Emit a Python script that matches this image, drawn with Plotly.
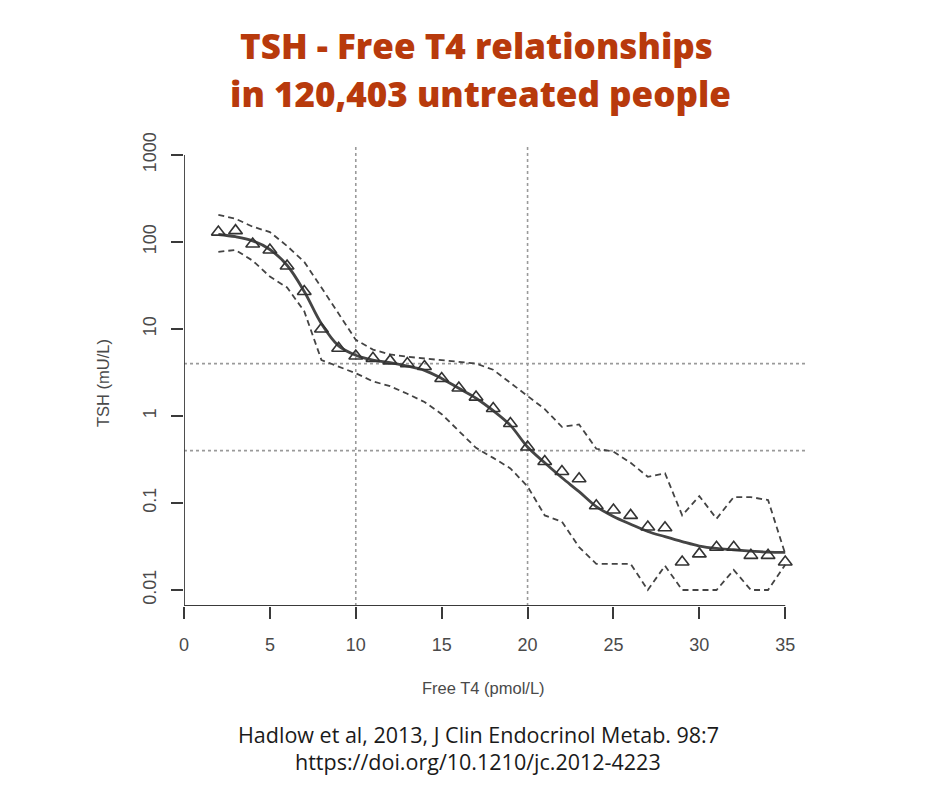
import numpy as np
import plotly.graph_objects as go

# ---------------- data ----------------
free_t4 = list(range(2, 36))
tsh_points = [130, 135, 95, 81, 53, 27, 10, 6.0, 4.9, 4.6, 4.3, 4.0, 3.7, 2.7, 2.1,
              1.65, 1.22, 0.82, 0.44, 0.30, 0.23, 0.19, 0.093, 0.083, 0.072, 0.053,
              0.052, 0.021, 0.026, 0.031, 0.031, 0.025, 0.025, 0.021]
tsh_fit = [122, 115, 103, 82, 54, 27, 11.5, 6.4, 5.0, 4.4, 4.1, 3.75, 3.35, 2.7, 2.08,
           1.6, 1.15, 0.78, 0.44, 0.29, 0.195, 0.135, 0.091, 0.07, 0.057, 0.047,
           0.041, 0.036, 0.032, 0.030, 0.029, 0.028, 0.0272, 0.027]
tsh_upper = [205, 185, 150, 130, 90, 59, 30, 15, 7.5, 5.8, 5.1, 4.8, 4.6, 4.4, 4.25,
             4.0, 3.4, 2.4, 1.7, 1.2, 0.75, 0.8, 0.42, 0.39, 0.29, 0.2, 0.22, 0.072,
             0.12, 0.066, 0.117, 0.117, 0.108, 0.026]
tsh_lower = [77, 81, 61, 40, 30, 16, 4.4, 3.7, 3.1, 2.5, 2.2, 1.8, 1.45, 1.05, 0.67,
             0.43, 0.33, 0.25, 0.155, 0.072, 0.061, 0.031, 0.02, 0.02, 0.02, 0.01,
             0.019, 0.01, 0.01, 0.01, 0.017, 0.01, 0.01, 0.0195]
ref_tsh = [4, 0.4]
ref_t4 = [10, 20]
x_ticks = [0, 5, 10, 15, 20, 25, 30, 35]
y_ticks = [0.01, 0.1, 1, 10, 100, 1000]
y_tick_text = ["0.01", "0.1", "1", "10", "100", "1000"]

X_RANGE = [0, 36.15]
Y_LOG_RANGE = [-2.184, 3.115]
y_bottom = 10 ** Y_LOG_RANGE[0]
y_top = 10 ** Y_LOG_RANGE[1]

ink = "#3a3a3a"
fig = go.Figure()

# reference dotted lines
for v in ref_tsh:
    fig.add_trace(go.Scatter(x=X_RANGE, y=[v, v], mode="lines",
                             line=dict(color="#9a9a9a", width=1.6, dash="dot"),
                             hoverinfo="skip", showlegend=False))
for v in ref_t4:
    fig.add_trace(go.Scatter(x=[v, v], y=[y_bottom, y_top], mode="lines",
                             line=dict(color="#9a9a9a", width=1.6, dash="dot"),
                             hoverinfo="skip", showlegend=False))

# bands
for band in (tsh_upper, tsh_lower):
    fig.add_trace(go.Scatter(x=free_t4, y=band, mode="lines",
                             line=dict(color="#444444", width=1.8, dash="6px,4px"),
                             showlegend=False))
# fitted curve
fig.add_trace(go.Scatter(x=free_t4, y=tsh_fit, mode="lines",
                         line=dict(color="#454545", width=2.8, shape="spline", smoothing=1.0),
                         showlegend=False))
# points
fig.add_trace(go.Scatter(x=free_t4, y=tsh_points, mode="markers",
                         marker=dict(symbol="triangle-up-open", size=12,
                                     color="#333333", line=dict(width=1.6, color="#333333")),
                         showlegend=False))

# axis lines (R style)
fig.add_trace(go.Scatter(x=[0, 0], y=[y_bottom, y_ticks[-1]], mode="lines",
                         line=dict(color=ink, width=1.8), hoverinfo="skip",
                         showlegend=False, cliponaxis=False))
fig.add_trace(go.Scatter(x=[x_ticks[0], x_ticks[-1]], y=[y_bottom, y_bottom], mode="lines",
                         line=dict(color=ink, width=1.8), hoverinfo="skip",
                         showlegend=False, cliponaxis=False))

tick_font = dict(family="Liberation Sans, Arial", size=18, color="#4a4a4a")
fig.update_xaxes(range=X_RANGE, tickvals=x_ticks, ticks="outside", ticklen=12,
                 tickwidth=1.6, tickcolor=ink, showgrid=False, zeroline=False,
                 showline=False, ticklabelstandoff=10, tickfont=tick_font)
fig.update_yaxes(type="log", range=Y_LOG_RANGE, tickvals=y_ticks, ticktext=y_tick_text,
                 ticks="outside", ticklen=12, tickwidth=1.6, tickcolor=ink,
                 showgrid=False, zeroline=False, showline=False, tickangle=-90,
                 ticklabelstandoff=8, tickfont=tick_font)

L, R, T, B = 184, 135, 145, 182
W, H = 940, 788
pw, ph = W - L - R, H - T - B


def px(x):
    return (x - L) / pw


def py(y):
    return (H - B - y) / ph


title_font = dict(family="Open Sans", size=35, color="#b83a0c", weight=800)
cap_font = dict(family="Open Sans", size=21.5, color="#1a1a1a")
ax_font = dict(family="Liberation Sans, Arial", size=16.5, color="#4a4a4a")
annots = [
    dict(text="TSH - Free T4 relationships", x=px(476), y=py(45), font=title_font),
    dict(text="in 120,403 untreated people", x=px(480), y=py(93), font=title_font),
    dict(text="Hadlow et al, 2013, J Clin Endocrinol Metab. 98:7", x=px(478), y=py(734), font=cap_font),
    dict(text="https://doi.org/10.1210/jc.2012-4223", x=px(478), y=py(761), font=cap_font),
    dict(text="Free T4 (pmol/L)", x=px(483), y=py(688), font=ax_font),
    dict(text="TSH (mU/L)", x=px(103), y=py(383), font=ax_font, textangle=-90),
]
for a in annots:
    fig.add_annotation(xref="paper", yref="paper", showarrow=False,
                       xanchor="center", yanchor="middle", **a)

fig.update_layout(width=W, height=H, margin=dict(l=L, r=R, t=T, b=B),
                  plot_bgcolor="white", paper_bgcolor="white", showlegend=False)

fig.write_html("out.html")
